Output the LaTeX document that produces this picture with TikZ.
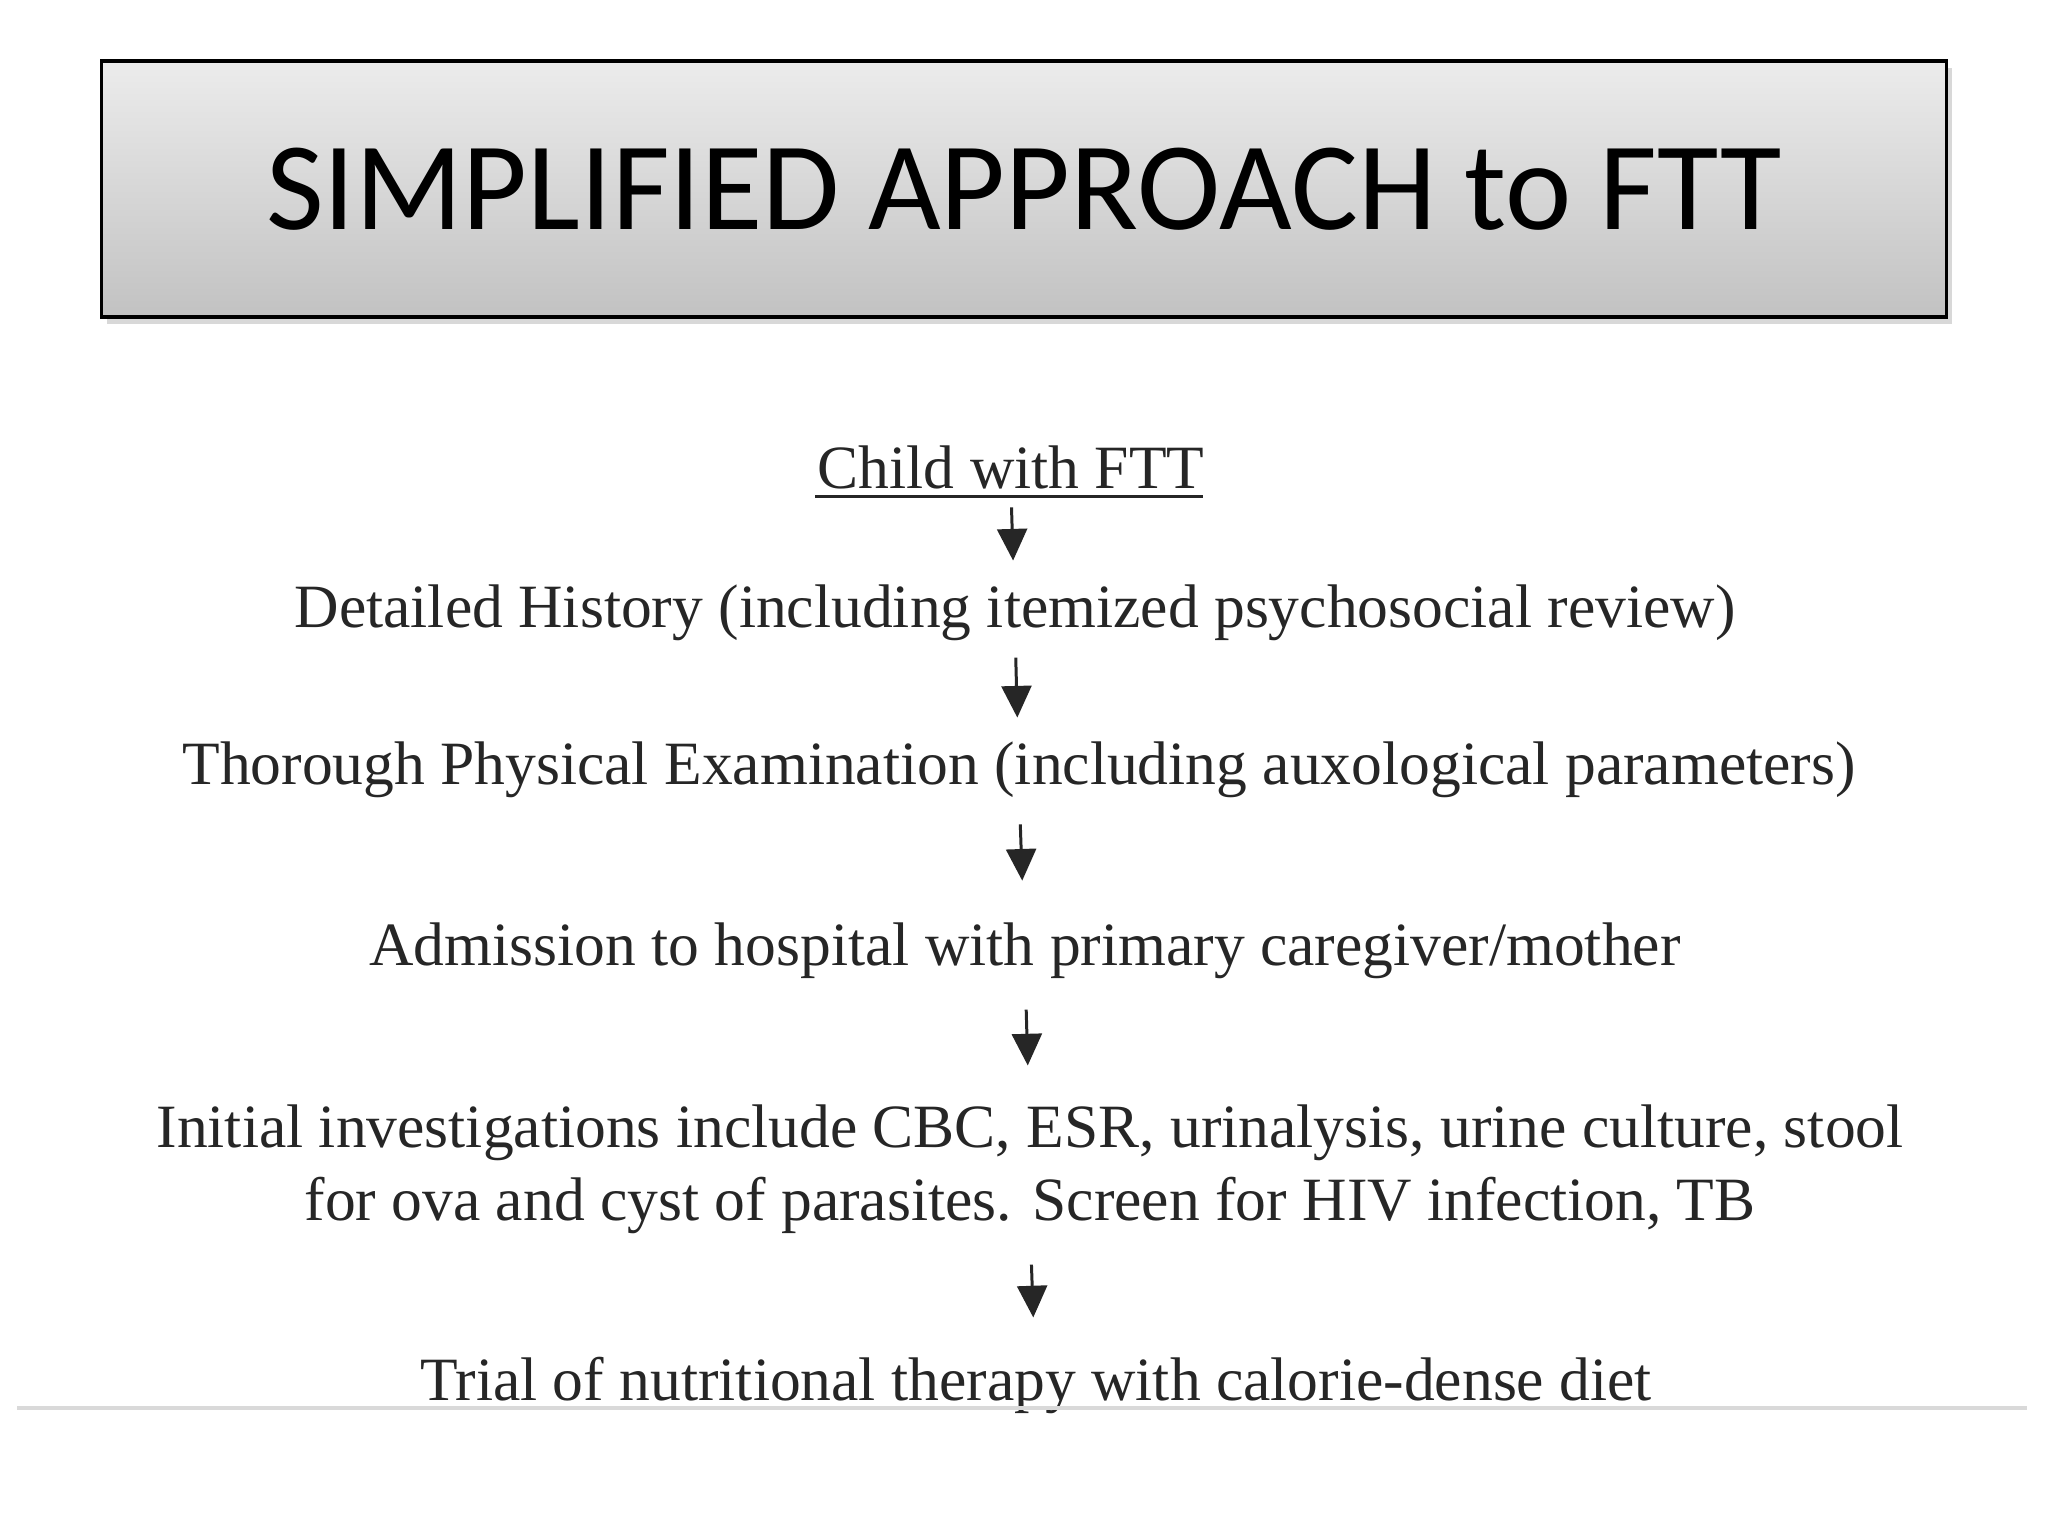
\documentclass[tikz,border=0pt]{standalone}
\usepackage{fontspec}
\setmainfont{Liberation Serif}
\newfontfamily\titlefont{Carlito}
\usetikzlibrary{arrows.meta, shadows}

\begin{document}
\begin{tikzpicture}[x=0.01cm, y=-0.01cm,
    stage/.style={anchor=base, inner sep=0pt, text height=0pt, text depth=0pt,
        font=\fontsize{17.5}{21}\selectfont, text=black!85},
    flow/.style={-{Triangle[length=9pt, width=8.5pt]}, line width=0.85pt, black!85}]
    \fill[white] (0, 0) rectangle (2048, 1536);
    \useasboundingbox (0, 0) rectangle (2048, 1536);
    \node[draw=black, line width=0.9pt, top color=gray!15, bottom color=gray!48,
        drop shadow={shadow xshift=1.5pt, shadow yshift=-2pt, opacity=0.3},
        minimum width=18.44cm, minimum height=2.56cm, inner sep=0pt,
        font=\titlefont\fontsize{35.7}{40}\selectfont] (title) at (1024, 189)
        {SIMPLIFIED APPROACH to FTT};
    \node[stage] (child) at (1011, 488) {Child with FTT};
    \draw[black!85, line width=0.8pt] ([xshift=-0.5pt, yshift=-2.3pt]child.base west)
        -- ([xshift=-0.5pt, yshift=-2.3pt]child.base east);
    \node[stage] (hist) at (1015, 627) {Detailed History (including itemized psychosocial review)};
    \node[stage] (exam) at (1019, 784) {Thorough Physical Examination (including auxological parameters)};
    \node[stage] (admit) at (1025, 965) {Admission to hospital with primary caregiver/mother};
    \node[stage] (invest) at (1030, 1147) {Initial investigations include CBC, ESR, urinalysis, urine culture, stool};
    \node[stage] (invest2) at (1030, 1220) {for ova and cyst of parasites. Screen for HIV infection, TB};
    \node[stage] (trial) at (1036, 1400) {Trial of nutritional therapy with calorie-dense diet};
    \draw[flow, shorten <=4.8pt, shorten >=18.2pt] (child.south) -- (hist.north);
    \draw[flow, shorten <=8pt, shorten >=18.2pt] (hist.south) -- (exam.north);
    \draw[flow, shorten <=10.8pt, shorten >=23.3pt] (exam.south) -- (admit.north);
    \draw[flow, shorten <=12pt, shorten >=22.5pt] (admit.south) -- (invest.north);
    \draw[flow, shorten <=12pt, shorten >=22.8pt] (invest2.south) -- (trial.north);
    \draw[gray!30, line width=1pt] (17, 1408) -- (2027, 1408);
\end{tikzpicture}
\end{document}
